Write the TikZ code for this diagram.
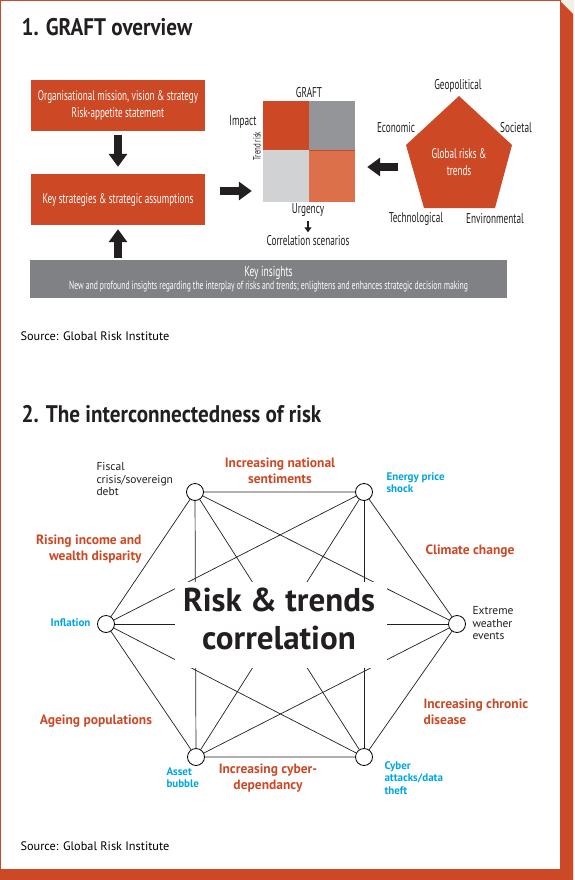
\documentclass[tikz,border=0pt]{standalone}
\usepackage{fontspec}
\setmainfont{PT Sans}
\newfontfamily\condfont[FakeStretch=0.65]{PT Sans}
\newfontfamily\headfont[FakeStretch=0.88]{PT Sans}
\usetikzlibrary{arrows.meta}
\definecolor{gorange}{RGB}{205,73,37}
\definecolor{lorange}{RGB}{220,112,75}
\definecolor{mgray}{RGB}{148,149,153}
\definecolor{lgray}{RGB}{209,210,212}
\definecolor{bargray}{RGB}{128,129,132}
\definecolor{rblue}{RGB}{0,166,226}
\definecolor{cream}{RGB}{244,240,230}
\definecolor{inkblack}{RGB}{35,31,32}
\tikzset{
  stratbox/.style={fill=gorange,text=white,align=center,inner sep=0pt,
    minimum width=174pt,minimum height=51pt,
    font=\condfont\fontsize{14}{16.5}\selectfont},
  bigarrow/.style={inkblack,line width=8pt,-{Triangle[length=13pt,width=18pt]}},
  riskdot/.style={circle,draw,fill=white,line width=0.8pt,minimum size=17pt,inner sep=0pt},
  link/.style={inkblack,line width=0.7pt},
  trend/.style={text=gorange,font=\bfseries\fontsize{13.5}{15.5}\selectfont},
  risk/.style={text=rblue,font=\bfseries\fontsize{11}{12.5}\selectfont},
  driver/.style={text=inkblack,font=\fontsize{11.5}{12.5}\selectfont},
  small/.style={text=inkblack,font=\condfont\fontsize{14.2}{15}\selectfont}
}
\begin{document}
\begin{tikzpicture}[x=1pt,y=-1pt,>=Triangle]
  \fill[cream] (0,0) rectangle (574,880);
  \fill[gorange] (560,1) -- (573,14) -- (573,880) -- (0,880) -- (0,869) -- (560,869) -- cycle;
  \draw[gorange,line width=0.8pt,fill=white] (0.5,0.5) rectangle (560,869);

  \node[anchor=west,text=inkblack,font=\headfont\bfseries\fontsize{24}{26}\selectfont]
    (title1) at (18,27) {1. GRAFT overview};
  \node[stratbox] (mission) at (118,105.5)
    {Organisational mission, vision \& strategy\\Risk-appetite statement};
  \node[stratbox] (strat) at (118,199.5) {Key strategies \& strategic assumptions};
  \node[fill=bargray,text=white,align=center,inner sep=0pt,minimum width=477pt,
    minimum height=38pt] (insights) at (268.5,279)
    {{\condfont\fontsize{14.5}{15}\selectfont Key insights}\\[1.5pt]
     {\condfont\fontsize{11.8}{12}\selectfont New and profound insights regarding the
      interplay of risks and trends; enlightens and enhances strategic decision making}};

  \node[minimum width=92pt,minimum height=101pt,inner sep=0pt] (mtx) at (309,151.5) {};
  \fill[gorange] (263,101) rectangle (309,150);
  \fill[mgray] (309,101) rectangle (355,150);
  \fill[lgray] (263,150) rectangle (309,202);
  \fill[lorange] (309,150) rectangle (355,202);
  \draw[gorange,line width=1pt] (309,150.5) -- (355,150.5);
  \node[small] (graft) at (309,93) {GRAFT};
  \node[small] (impact) at (243,122) {Impact};
  \node[small,rotate=90,font=\condfont\fontsize{10.5}{11}\selectfont] (trendrisk) at (257,146) {Trend risk};
  \node[small] (urg) at (308,210) {Urgency};
  \node[small] (corr) at (308,241) {Correlation scenarios};

  \fill[gorange] (459,96) -- (512,145) -- (495,208) -- (424,208) -- (406,145) -- cycle;
  \node[text=white,align=center,font=\condfont\fontsize{14}{16.5}\selectfont] (glob) at (459,162)
    {Global risks \&\\trends};
  \coordinate (pentL) at (412,167);
  \node[small] (geo) at (458,86) {Geopolitical};
  \node[small] (econ) at (396,128) {Economic};
  \node[small] (soc) at (516,128) {Societal};
  \node[small] (tech) at (416,219) {Technological};
  \node[small] (env) at (495,219) {Environmental};

  \coordinate (sr) at ([yshift=8.5pt]strat.east);
  \draw[bigarrow,shorten <=4pt,shorten >=7pt] (mission) -- (strat);
  \draw[bigarrow,shorten <=2pt,shorten >=4pt] (strat.south |- insights.north) -- (strat.south);
  \draw[bigarrow,shorten <=15pt,shorten >=11pt] (sr) -- (sr -| mtx.west);
  \draw[bigarrow,shorten <=14pt,shorten >=12pt] (pentL) -- (pentL -| mtx.east);
  \draw[inkblack,line width=2.5pt,-{Triangle[length=5pt,width=7pt]},shorten <=1pt,shorten >=0pt]
    (urg) -- (corr);

  \node[anchor=west,font=\fontsize{12.3}{14}\selectfont] (src1) at (17,336)
    {Source: Global Risk Institute};

  \node[anchor=west,text=inkblack,font=\headfont\bfseries\fontsize{24}{26}\selectfont]
    (title2) at (18,414) {2. The interconnectedness of risk};

  \node[riskdot] (fiscal) at (195,492) {};
  \node[riskdot] (energy) at (364,492) {};
  \node[riskdot] (inflation) at (106,624) {};
  \node[riskdot] (extreme) at (457,624) {};
  \node[riskdot] (asset) at (196,757) {};
  \node[riskdot] (cyber) at (364,757) {};

  \draw[link] (fiscal) -- (energy) -- (extreme) -- (cyber) -- (asset) -- (inflation) -- (fiscal);
  \draw[link] (fiscal) -- (asset);
  \draw[link] (fiscal) -- (cyber);
  \draw[link] (fiscal) -- (extreme);
  \draw[link] (energy) -- (inflation);
  \draw[link] (energy) -- (asset);
  \draw[link] (energy) -- (cyber);
  \draw[link] (inflation) -- (extreme);
  \draw[link] (inflation) -- (cyber);
  \draw[link] (extreme) -- (asset);

  \node[fill=white,minimum width=212pt,minimum height=86pt,inner sep=0pt] (hub) at (281,625) {};
  \node[align=center,text=inkblack,font=\bfseries\fontsize{33}{38}\selectfont] (hubtxt) at (279,619)
    {Risk \& trends\\correlation};

  \node[driver,anchor=north west,align=left] (fiscaltxt) at (93,459)
    {Fiscal\\crisis/sovereign\\debt};
  \node[risk,anchor=north west,align=left] (energytxt) at (383,469)
    {Energy price\\shock};
  \node[risk,anchor=east] (inflationtxt) at (94,623) {Inflation};
  \node[driver,anchor=north west,align=left] (extremetxt) at (469,603)
    {Extreme\\weather\\events};
  \node[risk,anchor=north west,align=left] (assettxt) at (163,764)
    {Asset\\bubble};
  \node[risk,anchor=north west,align=left] (cybertxt) at (381,758)
    {Cyber\\attacks/data\\theft};

  \node[trend,align=center] (national) at (280,471) {Increasing national\\sentiments};
  \node[trend,align=right,anchor=east] (income) at (145,549) {Rising income and\\wealth disparity};
  \node[trend] (climate) at (470,551) {Climate change};
  \node[trend] (ageing) at (96,721) {Ageing populations};
  \node[trend,align=left,anchor=west] (chronic) at (420,712) {Increasing chronic\\disease};
  \node[trend,align=center] (cyberdep) at (268,778) {Increasing cyber-\\dependancy};

  \node[anchor=west,font=\fontsize{12.3}{14}\selectfont] (src2) at (17,846)
    {Source: Global Risk Institute};
\end{tikzpicture}
\end{document}
